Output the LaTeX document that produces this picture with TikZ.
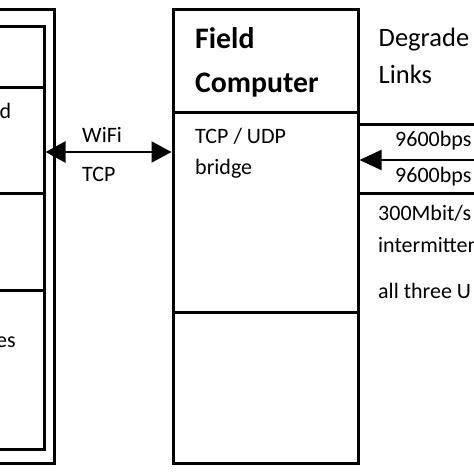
\documentclass[tikz,border=0pt]{standalone}
\usepackage{fontspec}
\setmainfont{Carlito}
\usetikzlibrary{arrows.meta}
\begin{document}
\begin{tikzpicture}[x=1pt,y=-1pt,
  box/.style={draw, line width=3pt, rectangle, inner sep=0pt, outer sep=0pt},
  sep/.style={line width=3pt},
  lbl/.style={anchor=base west, inner sep=0pt, font=\fontsize{22}{24}\selectfont},
  lble/.style={anchor=base east, inner sep=0pt, font=\fontsize{22}{24}\selectfont},
  ttl/.style={anchor=base west, inner sep=0pt, font=\fontsize{29.8}{32}\selectfont\bfseries},
  big/.style={anchor=base west, inner sep=0pt, font=\fontsize{26.5}{30}\selectfont},
  link/.style={line width=2pt},
  tipL/.style={{Triangle[length=20pt,width=21pt]}-{Triangle[length=20pt,width=21pt]}},
  tipR/.style={-{Triangle[length=22pt,width=20pt]}},
]
\useasboundingbox (0,0) rectangle (474,474);
% left boxes
\node[box, anchor=north east, minimum width=160pt, minimum height=453.5pt] (outer) at (54.5,9.5) {};
\node[box, anchor=north east, minimum width=150pt, minimum height=423pt] (inner) at (44,26) {};
\coordinate (l1) at (-120,87);   \coordinate (r1) at (44,87);
\coordinate (l2) at (-120,193);  \coordinate (r2) at (44,193);
\coordinate (l3) at (-120,290);  \coordinate (r3) at (44,290);
\draw[sep] (l1) -- (r1);
\draw[sep] (l2) -- (r2);
\draw[sep] (l3) -- (r3);
% field computer
\node[box, anchor=north west, minimum width=185pt, minimum height=453.5pt] (field) at (173,9.5) {};
\coordinate (f1l) at (173,112); \coordinate (f1r) at (358,112);
\coordinate (f2l) at (173,312); \coordinate (f2r) at (358,312);
\draw[sep] (f1l) -- (f1r);
\draw[sep] (f2l) -- (f2r);
% right side lines
\coordinate (ra) at (358,124.5); \coordinate (rae) at (480,124.5);
\coordinate (rb) at (358,193);   \coordinate (rbe) at (480,193);
\draw[sep] (ra) -- (rae);
\draw[sep] (rb) -- (rbe);
% connectors
\coordinate (wl) at (44,152); \coordinate (wr) at (173,152);
\draw[link, tipL, shorten <=1.5pt, shorten >=1.5pt] (wl) -- (wr);
\coordinate (sl) at (480,160); \coordinate (sr) at (358,160);
\draw[link, tipR, shorten >=1.5pt] (sl) -- (sr);
% texts
\node[ttl] (t1) at (195,48) {Field};
\node[ttl] (t2) at (195,92) {Computer};
\node[lbl] (t3) at (195,143) {TCP / UDP};
\node[lbl] (t4) at (195,174) {bridge};
\node[lbl] (t5) at (82,142.5) {WiFi};
\node[lbl] (t6) at (82,181.5) {TCP};
\node[big] (t7) at (378.5,46) {Degrade};
\node[big] (t8) at (378.5,83) {Links};
\node[lbl] (t9) at (395,146) {9600bps};
\node[lbl] (t10) at (395,182) {9600bps};
\node[lbl] (t11) at (378,220) {300Mbit/s};
\node[lbl] (t12) at (378,252) {intermitten};
\node[lbl] (t13) at (378,298) {all three U};
\node[lble] (t14) at (11.5,118) {d};
\node[lble] (t15) at (16,347) {es};
\end{tikzpicture}
\end{document}
